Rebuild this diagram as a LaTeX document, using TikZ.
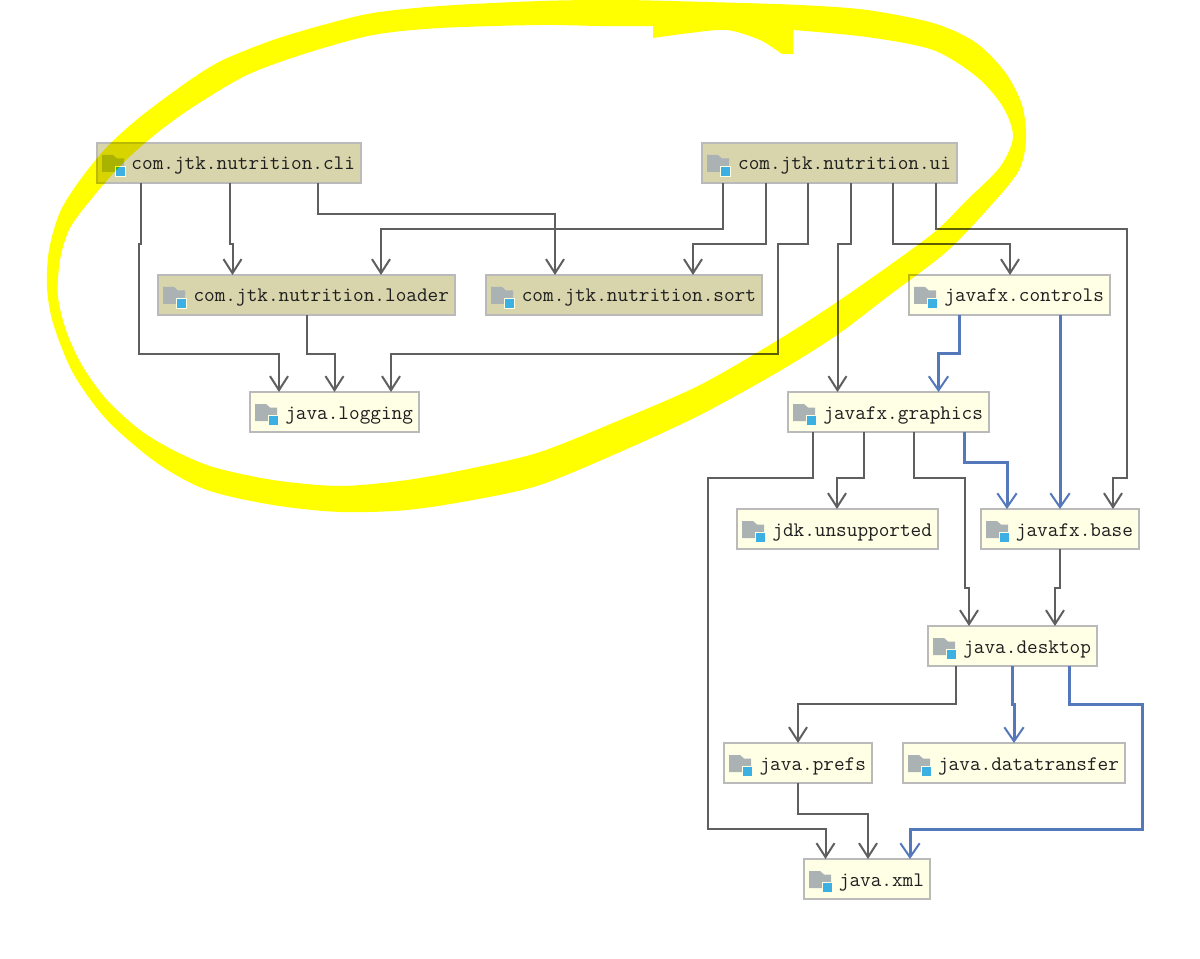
\documentclass[tikz,border=0pt]{standalone}
\usetikzlibrary{arrows.meta}
\definecolor{nodeedge}{RGB}{186,186,186}
\definecolor{cream}{RGB}{255,255,230}
\definecolor{tan}{RGB}{216,212,172}
\definecolor{linegray}{RGB}{95,95,95}
\definecolor{lineblue}{RGB}{84,120,186}
\definecolor{foldergray}{RGB}{170,178,180}
\definecolor{squareblue}{RGB}{60,176,226}
\definecolor{marker}{RGB}{255,255,0}
\definecolor{labelink}{RGB}{30,30,30}
\tikzset{
  x=0.75pt,y=-0.75pt,
  modbox/.style={draw=nodeedge,line width=1.5pt,fill=cream,rectangle,outer sep=0pt,inner xsep=4.5pt,inner ysep=0pt,
    minimum width=#1*0.75pt,text width=(#1-12)*0.75pt,minimum height=30pt,align=right,text=labelink,
    font=\ttfamily\fontsize{15.5}{18}\selectfont,text height=12.5pt,text depth=2pt},
  appbox/.style={modbox=#1,fill=tan},
  dep/.style={draw=linegray,line width=1.5pt,-{Straight Barb[length=10.5pt,width=13.5pt]}},
  req/.style={draw=lineblue,line width=2.25pt,-{Straight Barb[length=10.5pt,width=14.5pt,line width=1.5pt]}},
}
\begin{document}
\begin{tikzpicture}
\useasboundingbox (0,0) rectangle (1200,959);
\fill[white] (0,0) rectangle (1200,959);

\node[appbox=264] (cli) at (229,163) {com.jtk.nutrition.cli};
\node[appbox=255] (ui) at (829.5,163) {com.jtk.nutrition.ui};
\node[appbox=297] (loader) at (306.5,295) {com.jtk.nutrition.loader};
\node[appbox=276] (sort) at (624,295) {com.jtk.nutrition.sort};
\node[modbox=201] (controls) at (1009.5,295) {javafx.controls};
\node[modbox=169] (logging) at (334.5,412) {java.logging};
\node[modbox=201] (graphics) at (888.5,412) {javafx.graphics};
\node[modbox=201] (jdk) at (837.5,529) {jdk.unsupported};
\node[modbox=158] (base) at (1060,529) {javafx.base};
\node[modbox=169] (desktop) at (1012.5,646) {java.desktop};
\node[modbox=148] (prefs) at (798,763) {java.prefs};
\node[modbox=222] (transfer) at (1014,763) {java.datatransfer};
\node[modbox=126] (xml) at (867,879) {java.xml};

\foreach \n in {cli,ui,loader,sort,controls,logging,graphics,jdk,base,desktop,prefs,transfer,xml}{
  \begin{scope}[shift={(\n.north west)}]
    \fill[foldergray] (5,12) -- (16,12) -- (20,15.5) -- (27,15.5) -- (27,29) -- (5,29) -- cycle;
    \fill[squareblue,draw=cream,line width=0.6pt] (18.5,23.5) rectangle (28.5,33.5);
  \end{scope}
}

\draw[dep] (cli.south -| 141,0) -- (141,244) -- (139,244) -- (139,354) -- (279,354) -- (logging.north -| 279,0);
\draw[dep] (cli.south -| 229.5,0) -- (229.5,244) -- (232.5,244) -- (loader.north -| 232.5,0);
\draw[dep] (cli.south -| 318,0) -- (318,214) -- (555,214) -- (sort.north -| 555,0);
\draw[dep] (ui.south -| 723,0) -- (723,229) -- (381,229) -- (loader.north -| 381,0);
\draw[dep] (ui.south -| 765.5,0) -- (765.5,244) -- (693,244) -- (sort.north -| 693,0);
\draw[dep] (ui.south -| 808,0) -- (808,244) -- (778,244) -- (778,354) -- (391,354) -- (logging.north -| 391,0);
\draw[dep] (ui.south -| 851,0) -- (851,244) -- (837.5,244) -- (graphics.north -| 837.5,0);
\draw[dep] (ui.south -| 893,0) -- (893,244) -- (1010,244) -- (controls.north -| 1010,0);
\draw[dep] (ui.south -| 936,0) -- (936,229) -- (1127,229) -- (1127,478) -- (1113,478) -- (base.north -| 1113,0);
\draw[dep] (loader.south -| 307,0) -- (307,354) -- (334.5,354) -- (logging.north -| 334.5,0);
\draw[req] (controls.south -| 959,0) -- (959,354) -- (938.5,354) -- (graphics.north -| 938.5,0);
\draw[req] (controls.south -| 1060,0) -- (base.north -| 1060,0);
\draw[dep] (graphics.south -| 813,0) -- (813,478) -- (708,478) -- (708,829) -- (825.5,829) -- (xml.north -| 825.5,0);
\draw[dep] (graphics.south -| 863.5,0) -- (863.5,478) -- (837,478) -- (jdk.north -| 837,0);
\draw[dep] (graphics.south -| 913.5,0) -- (913.5,478) -- (964.5,478) -- (964.5,588) -- (969,588) -- (desktop.north -| 969,0);
\draw[req] (graphics.south -| 964.5,0) -- (964.5,462) -- (1007,462) -- (base.north -| 1007,0);
\draw[dep] (base.south -| 1060,0) -- (1060,588) -- (1055,588) -- (desktop.north -| 1055,0);
\draw[dep] (desktop.south -| 956,0) -- (956,704) -- (798,704) -- (prefs.north -| 798,0);
\draw[req] (desktop.south -| 1012,0) -- (1012,704) -- (1014,704) -- (transfer.north -| 1014,0);
\draw[req] (desktop.south -| 1069,0) -- (1069,704) -- (1142,704) -- (1142,829) -- (910,829) -- (xml.north -| 910,0);
\draw[dep] (prefs.south -| 798,0) -- (798,814) -- (868,814) -- (xml.north -| 868,0);

\fill[marker,even odd rule,blend mode=multiply]
  plot[smooth cycle,tension=0.5] coordinates {
    (540,1)(620,0)(707,2)(800,5)(867,10)(933,23)(975,42)(1005,72)(1022,105)(1026,140)(1018,172)
    (985,212)(945,253)(887,297)(837,335)(778,372)(700,415)(620,452)(540,485)(473,500)(407,510)
    (340,512)(273,505)(207,490)(157,463)(107,420)(73,373)(53,323)(47,287)(49,250)(60,212)(80,180)
    (107,147)(140,117)(190,80)(223,60)(273,40)(323,25)(373,13)(440,6)}
  plot[smooth,tension=0.5] coordinates {
    (793,30)(867,37)(933,50)(977,77)(1003,107)(1013,137)(1000,167)(967,200)(937,230)(897,260)
    (837,302)(778,340)(700,385)(620,420)(540,452)(473,468)(407,480)(340,486)(273,480)(213,467)
    (173,450)(140,430)(107,400)(83,367)(67,333)(58,297)(60,260)(70,228)(93,197)(123,163)(157,133)
    (193,107)(247,75)(307,53)(373,35)(440,28)(540,25)(600,26)(653,26)}
  -- (653,38) -- plot[smooth,tension=0.5] coordinates {(653,38)(690,33)(727,30)(760,40)(782,54)}
  -- (793,54) -- cycle;
\end{tikzpicture}
\end{document}
